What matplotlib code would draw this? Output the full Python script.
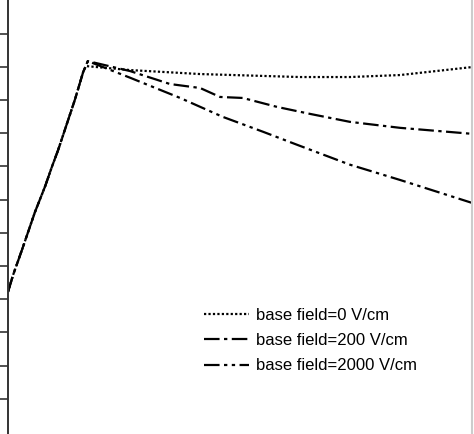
import numpy as np
import matplotlib.pyplot as plt

# shared rise (normalised time, field in tick units)
rise_t = [0.0, 0.011, 0.030, 0.058, 0.080, 0.095, 0.108, 0.144, 0.162]
rise_y = [4.22, 4.73, 5.48, 6.62, 7.40, 8.00, 8.49, 10.00, 10.84]

t_0 = [0.168, 0.263, 0.414, 0.629, 0.737, 0.845, 1.0]
y_0 = [11.02, 10.90, 10.78, 10.69, 10.69, 10.75, 10.99]

t_200 = [0.172, 0.263, 0.349, 0.414, 0.457, 0.506, 0.580, 0.651, 0.737, 0.845, 1.0]
y_200 = [11.17, 10.87, 10.48, 10.36, 10.09, 10.06, 9.79, 9.58, 9.34, 9.16, 8.98]

t_2000 = [0.172, 0.263, 0.371, 0.463, 0.550, 0.623, 0.737, 0.845, 1.0]
y_2000 = [11.17, 10.67, 10.06, 9.49, 9.04, 8.65, 8.05, 7.59, 6.90]

labels = ['base field=0 V/cm', 'base field=200 V/cm', 'base field=2000 V/cm']

fig = plt.figure(figsize=(4.74, 4.34), dpi=100)
ax = fig.add_axes([8 / 474, 0, 464 / 474, 1])

ax.plot(rise_t + t_0, rise_y + y_0, color='black', lw=1.6,
        ls=(0, (1, 1)), label=labels[0])
ax.plot(rise_t + t_200, rise_y + y_200, color='black', lw=1.6,
        ls=(0, (7, 2, 1.5, 2)), label=labels[1])
ax.plot(rise_t + t_2000, rise_y + y_2000, color='black', lw=1.6,
        ls=(0, (7, 2, 1.5, 2, 1.5, 2)), label=labels[2])

ax.set_xlim(0, 1)
ax.set_ylim(-0.06, 13.01)
ax.set_yticks(np.arange(1, 13))
ax.set_yticklabels([])
ax.set_xticks([])
ax.tick_params(axis='y', direction='out', length=5.8, width=1.2, color='#333333')

for side in ('top', 'bottom'):
    ax.spines[side].set_visible(False)
ax.spines['left'].set_color('#333333')
ax.spines['left'].set_linewidth(1.4)
ax.spines['right'].set_color('#cccccc')
ax.spines['right'].set_linewidth(1.5)

ax.legend(loc='lower left', bbox_to_anchor=(0.39, 0.105), frameon=False,
          prop={'family': 'Liberation Sans', 'size': 12},
          handlelength=2.7, handletextpad=0.4, labelspacing=0.62)

fig.savefig('out.png', dpi=100)
